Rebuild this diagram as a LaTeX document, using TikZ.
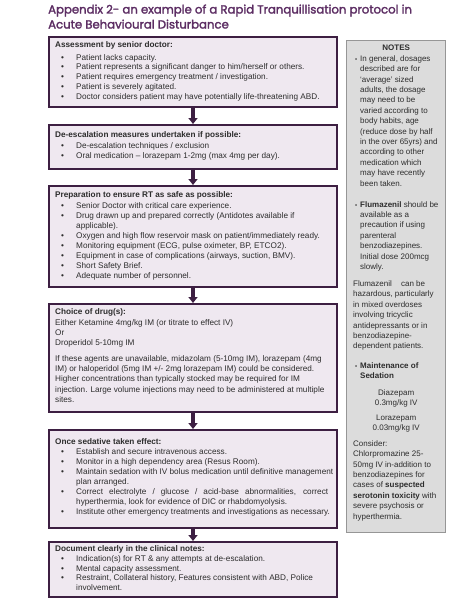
\documentclass[tikz,border=0pt]{standalone}
\usepackage{fontspec}
\setmainfont{Liberation Sans}
\newfontfamily\titlefont[FakeBold=2]{Poppins}
\usetikzlibrary{arrows.meta}
\definecolor{boxline}{RGB}{61,31,66}
\definecolor{boxfill}{RGB}{239,232,240}
\definecolor{titlecol}{RGB}{92,45,99}
\definecolor{txt}{RGB}{45,45,45}
\definecolor{notefill}{RGB}{220,220,220}
\definecolor{noteline}{RGB}{150,150,150}
\newcommand{\bl}[1]{\makebox[21pt][l]{\hspace{6pt}\textbullet}#1}
\newcommand{\cl}[1]{\hspace*{21pt}#1}
\newcommand{\nb}[1]{\makebox[7pt][l]{\hspace{2pt}{\fontsize{6}{6}\selectfont\textbullet}}#1}
\newcommand{\nc}[1]{\hspace*{7pt}#1}
\newcommand{\ctr}[1]{\makebox[86pt]{#1}}
\begin{document}
\begin{tikzpicture}[x=1pt,y=-1pt,
  box/.style={draw=boxline, line width=2pt, fill=boxfill, rectangle, inner sep=0pt, minimum width=288pt, anchor=north west},
  notebox/.style={draw=noteline, line width=0.8pt, fill=notefill, rectangle, inner sep=0pt, anchor=north west, minimum width=98.2pt, minimum height=491.2pt},
  tx/.style={anchor=base west, inner sep=0pt, text=txt},
  flowarrow/.style={draw=boxline, fill=boxline, line width=3.2pt, -{Triangle[length=6pt,width=9pt]}}
]
\useasboundingbox[fill=white] (0,0) rectangle (474,614);

\node[anchor=base west, inner sep=0pt, text=titlecol] (title) at (48,13.5) {\parbox[t]{420pt}{\titlefont\fontsize{11.7}{15}\selectfont Appendix 2- an example of a Rapid Tranquillisation protocol in\\Acute Behavioural Disturbance}};

\node[box, minimum height=70pt] (b1) at (48,36) {};
\node[box, minimum height=44pt] (b2) at (48,124) {};
\node[box, minimum height=101pt] (b3) at (48,185) {};
\node[box, minimum height=108pt] (b4) at (48,303) {};
\node[box, minimum height=98pt] (b5) at (48,429) {};
\node[box, minimum height=55pt] (b6) at (48,541) {};
\node[notebox] (notes) at (346.4,40.4) {};

\draw[flowarrow] (b1.south) -- (b2.north);
\draw[flowarrow] (b2.south) -- (b3.north);
\draw[flowarrow] (b3.south) -- (b4.north);
\draw[flowarrow] (b4.south) -- (b5.north);
\draw[flowarrow] (b5.south) -- (b6.north);

\node[tx] (t1) at (55,47.5) {\parbox[t]{300pt}{\raggedright\fontsize{8.2}{9.8}\selectfont
\textbf{Assessment by senior doctor:}\\[2.7pt]
\bl{Patient lacks capacity.}\\
\bl{Patient represents a significant danger to him/herself or others.}\\
\bl{Patient requires emergency treatment / investigation.}\\
\bl{Patient is severely agitated.}\\
\bl{Doctor considers patient may have potentially life-threatening ABD.}}};

\node[tx] (t2) at (55,137) {\parbox[t]{300pt}{\raggedright\fontsize{8.2}{10}\selectfont
\textbf{De-escalation measures undertaken if possible:}\\[1pt]
\bl{De-escalation techniques / exclusion}\\
\bl{Oral medication -- lorazepam 1-2mg (max 4mg per day).}}};

\node[tx] (t3) at (55,197) {\parbox[t]{300pt}{\raggedright\fontsize{8.2}{10.1}\selectfont
\textbf{Preparation to ensure RT as safe as possible:}\\[0.9pt]
\bl{Senior Doctor with critical care experience.}\\
\bl{Drug drawn up and prepared correctly (Antidotes available if}\\
\cl{applicable).}\\
\bl{Oxygen and high flow reservoir mask on patient/immediately ready.}\\
\bl{Monitoring equipment (ECG, pulse oximeter, BP, ETCO2).}\\
\bl{Equipment in case of complications (airways, suction, BMV).}\\
\bl{Short Safety Brief.}\\
\bl{Adequate number of personnel.}}};

\node[tx] (t4) at (55,314) {\parbox[t]{300pt}{\raggedright\fontsize{8.2}{10.2}\selectfont
\textbf{Choice of drug(s):}\\[1.3pt]
Either Ketamine 4mg/kg IM (or titrate to effect IV)\\
Or\\
Droperidol 5-10mg IM\\[5.4pt]
If these agents are unavailable, midazolam (5-10mg IM), lorazepam (4mg\\
IM) or haloperidol (5mg IM +/- 2mg lorazepam IM) could be considered.\\
Higher concentrations than typically stocked may be required for IM\\
injection. Large volume injections may need to be administered at multiple\\
sites.}};

\node[tx] (t5) at (55,444) {\parbox[t]{300pt}{\raggedright\fontsize{8.2}{10}\selectfont
\textbf{Once sedative taken effect:}\\[0.5pt]
\bl{Establish and secure intravenous access.}\\
\bl{Monitor in a high dependency area (Resus Room).}\\
\bl{Maintain sedation with IV bolus medication until definitive management}\\
\cl{plan arranged.}\\
\bl{\makebox[252pt][s]{Correct electrolyte / glucose / acid-base abnormalities, correct}}\\
\cl{hyperthermia, look for evidence of DIC or rhabdomyolysis.}\\
\bl{Institute other emergency treatments and investigations as necessary.}}};

\node[tx] (t6) at (55,551) {\parbox[t]{300pt}{\raggedright\fontsize{8.2}{9.7}\selectfont
\textbf{Document clearly in the clinical notes:}\\[0.8pt]
\bl{Indication(s) for RT \& any attempts at de-escalation.}\\
\bl{Mental capacity assessment.}\\
\bl{Restraint, Collateral history, Features consistent with ABD, Police}\\
\cl{involvement.}}};

\node[tx] (tn) at (353,50) {\parbox[t]{90pt}{\raggedright\fontsize{8}{10.4}\selectfont
\ctr{\textbf{NOTES}}\\[0.8pt]
\nb{In general, dosages}\\
\nc{described are for}\\
\nc{`average' sized}\\
\nc{adults, the dosage}\\
\nc{may need to be}\\
\nc{varied according to}\\
\nc{body habits, age}\\
\nc{(reduce dose by half}\\
\nc{in the over 65yrs) and}\\
\nc{according to other}\\
\nc{medication which}\\
\nc{may have recently}\\
\nc{been taken.}\\[10.6pt]
\nb{\textbf{Flumazenil} should be}\\
\nc{available as a}\\
\nc{precaution if using}\\
\nc{parenteral}\\
\nc{benzodiazepines.}\\
\nc{Initial dose 200mcg}\\
\nc{slowly.}\\[6.7pt]
Flumazenil\hspace{7pt} can be\\
hazardous, particularly\\
in mixed overdoses\\
involving tricyclic\\
antidepressants or in\\
benzodiazepine-\\
dependent patients.\\[9.2pt]
\nb{\textbf{Maintenance of}}\\
\nc{\textbf{Sedation}}\\[6.1pt]
\ctr{Diazepam}\\
\ctr{0.3mg/kg IV}\\[4.1pt]
\ctr{Lorazepam}\\
\ctr{0.03mg/kg IV}\\[5.1pt]
Consider:\\
Chlorpromazine 25-\\
50mg IV in-addition to\\
benzodiazepines for\\
cases of \textbf{suspected}\\
\textbf{serotonin toxicity} with\\
severe psychosis or\\
hyperthermia.}};
\end{tikzpicture}
\end{document}
